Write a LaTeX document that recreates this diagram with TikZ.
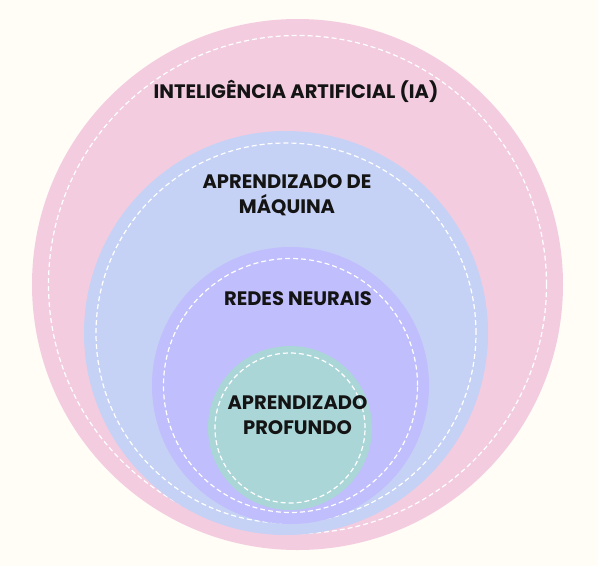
\documentclass[tikz,border=0pt]{standalone}
\usepackage{fontspec}
\setmainfont{Poppins}
\usetikzlibrary{positioning}

\definecolor{paper}{HTML}{FFFDF6}
\definecolor{iapink}{HTML}{F4CCE0}
\definecolor{mlblue}{HTML}{C5D2F5}
\definecolor{rnpurple}{HTML}{C0BEFC}
\definecolor{dlgreen}{HTML}{AAD6D8}
\definecolor{ink}{HTML}{141414}

\tikzset{
  ring/.style={circle, inner sep=0pt, draw=none},
  dashring/.style={draw=white, line width=1.2pt, dash pattern=on 5pt off 3pt},
  tag/.style={font=\bfseries\fontsize{19.5}{25}\selectfont, text=ink, align=center, anchor=base, inner sep=0pt}
}

\begin{document}
\begin{tikzpicture}[x=1pt, y=-1pt]

% background
 \fill[paper] (0,0) rectangle (598,566);
 \useasboundingbox (0,0) rectangle (598,566);

% nested circles
 \node[ring, fill=iapink, minimum size=531pt] (ia) at (297.5,284.5) {};
 \draw[dashring] (ia.center) circle[radius=249pt];
 \node[ring, fill=mlblue, minimum size=404pt] (ml) at (286,333) {};
 \draw[dashring] (ml.center) circle[radius=190pt];
 \node[ring, fill=rnpurple, minimum size=277pt] (rn) at (290.5,385.5) {};
 \draw[dashring] (rn.center) circle[radius=127pt];
 \node[ring, fill=dlgreen, minimum size=164pt] (dl) at (290,428) {};
 \draw[dashring] (dl.center) circle[radius=75pt];

% labels (base = last line)
 \node[tag] (tia) at (296,98) {INTELIGÊNCIA ARTIFICIAL (IA)};
 \node[tag] (tml) at (287,213) {APRENDIZADO DE\\MÁQUINA};
 \node[tag] (trn) at (298,305) {REDES NEURAIS};
 \node[tag] (tdl) at (297.5,434) {APRENDIZADO\\PROFUNDO};

\end{tikzpicture}
\end{document}
